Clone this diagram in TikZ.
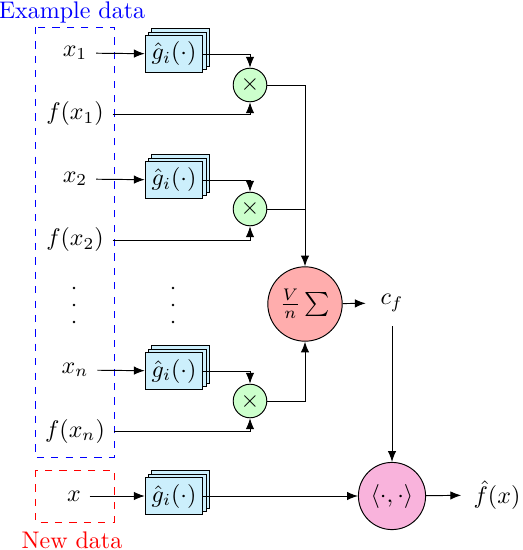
\documentclass[tikz,border=0pt]{standalone}
\usepackage{amsmath}
\usepackage{amssymb}
\usetikzlibrary{arrows.meta,positioning,shadows}

\begin{document}
\begin{tikzpicture}[
  x=0.01465cm, y=-0.01465cm, >={Latex[length=4.5pt,width=3.5pt]},
  lbl/.style={inner sep=3.5pt},
  gbox/.style={draw, fill=cyan!20, minimum width=24pt, minimum height=15.6pt, inner sep=0pt,
    double copy shadow={shadow xshift=1.35pt, shadow yshift=1.35pt}},
  mult/.style={circle, draw, fill=green!20, minimum size=14pt, inner sep=0pt},
  sumnode/.style={circle, draw, fill=red!32, minimum size=31pt, inner sep=0pt},
  ipnode/.style={circle, draw, fill=magenta!30, minimum size=28pt, inner sep=0pt},
  flow/.style={->, line width=0.4pt},
  wire/.style={line width=0.4pt},
]
\useasboundingbox (0,0) rectangle (522,550);
% groups of data
\draw[blue, dashed] (35,27) rectangle (114,457);
\draw[red, dashed] (35,470) rectangle (114,522);
\node[blue] (extitle) at (72,13) {Example data};
\node[red] (newtitle) at (72,540) {New data};

% example rows
\node[lbl] (x1) at (75,53) {$x_1$};
\node[lbl] (f1) at (75,114) {$f(x_1)$};
\node[gbox] (g1) at (174,54) {$\hat{g}_i(\cdot)$};
\node[mult] (m1) at (250,85) {$\times$};

\node[lbl] (x2) at (75,179) {$x_2$};
\node[lbl] (f2) at (75,240) {$f(x_2)$};
\node[gbox] (g2) at (174,180) {$\hat{g}_i(\cdot)$};
\node[mult] (m2) at (250,209) {$\times$};

\node[lbl] (xn) at (75,370) {$x_n$};
\node[lbl] (fn) at (75,431) {$f(x_n)$};
\node[gbox] (gn) at (174,371) {$\hat{g}_i(\cdot)$};
\node[mult] (mn) at (250,401) {$\times$};

\foreach \yy in {288,305,322} {\fill (74,\yy) circle (0.55pt); \fill (173,\yy) circle (0.55pt);}

% sum and inner product
\node[sumnode] (sum) at (305,304) {$\frac{V}{n}\sum$};
\node[lbl, inner sep=6pt] (cf) at (392,303) {$c_f$};
\node[lbl] (xnew) at (74,496) {$x$};
\node[gbox] (gnew) at (174,496) {$\hat{g}_i(\cdot)$};
\node[ipnode] (ip) at (392,496) {$\langle\cdot,\cdot\rangle$};
\node[lbl, inner sep=5pt] (fhat) at (497,495) {$\hat{f}(x)$};

\coordinate (j1) at (305,85);
\coordinate (j2) at (305,209);
\coordinate (jn) at (305,401);

\foreach \r in {1,2,n} {
  \draw[flow] (x\r) -- (g\r);
  \draw[flow] (g\r.east) -| (m\r.north);
  \draw[flow] (f\r.east) -| (m\r.south);
}
\draw[flow] (m1.east) -- (j1) -- (sum.north);
\draw[wire] (m2.east) -- (j2);
\draw[flow] (mn.east) -- (jn) -- (sum.south);
\draw[flow] (sum) -- (cf);
\draw[flow] (cf) -- (ip);
\draw[flow] (xnew) -- (gnew);
\draw[flow] (gnew) -- (ip);
\draw[flow] (ip) -- (fhat);
\end{tikzpicture}
\end{document}
